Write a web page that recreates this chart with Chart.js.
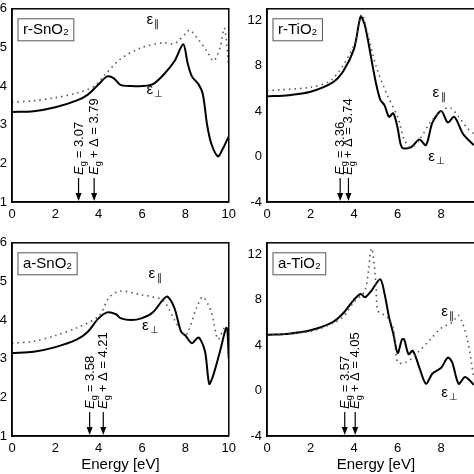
<!DOCTYPE html>
<html><head><meta charset="utf-8">
<script src="https://cdn.jsdelivr.net/npm/chart.js@4"></script>
<style>
body{margin:0;width:474px;height:474px;overflow:hidden;background:#fff;position:relative}
.p{position:absolute}
</style></head><body>
<div class="p" style="left:0;top:0;width:237px;height:222px"><canvas id="c1"></canvas></div>
<div class="p" style="left:235px;top:0;width:258px;height:222px"><canvas id="c2"></canvas></div>
<div class="p" style="left:0;top:234px;width:237px;height:240px"><canvas id="c3"></canvas></div>
<div class="p" style="left:235px;top:234px;width:258px;height:240px"><canvas id="c4"></canvas></div>
<script>
const FONT = 'Liberation Sans';

// r-SnO2
const rSnPerp = [[0,3.33],[1,3.35],[2,3.45],[3,3.63],[3.5,3.78],[4,4.05],[4.4,4.25],[4.7,4.2],[5,4.03],[5.5,4.0],[6,4.0],[6.5,4.05],[7,4.3],[7.5,4.65],[7.9,5.08],[8.1,4.6],[8.3,4.25],[8.6,4.05],[8.8,3.8],[9,3.0],[9.2,2.5],[9.5,2.18],[9.7,2.35],[10,2.7]];
const rSnPar = [[0,3.58],[1,3.62],[2,3.7],[3,3.82],[3.8,4.0],[4.3,4.3],[5,4.7],[6,5.0],[7,5.12],[7.5,5.1],[8,5.35],[8.2,5.45],[8.6,5.2],[9,4.9],[9.3,4.65],[9.6,5.0],[9.8,5.5],[10,4.5]];
// r-TiO2
const rTiPerp = [[0,5.3],[1,5.4],[2,5.7],[3,6.5],[3.5,7.5],[4,9.5],[4.3,12.3],[4.5,11.5],[4.8,8.5],[5,6.5],[5.2,5.0],[5.4,4.5],[5.6,3.5],[5.8,3.8],[6,2.5],[6.2,0.8],[6.6,0.8],[7,1.5],[7.3,1.0],[7.6,3.0],[8,4.0],[8.3,3.0],[8.6,3.5],[9,2.0],[9.5,1.0]];
const rTiPar = [[0,5.8],[2,6.1],[3,6.8],[4,9.8],[4.35,12.5],[4.6,11.0],[5,8.0],[5.5,5.5],[6,3.5],[6.3,1.5],[6.6,0.8],[7,1.5],[7.5,3.0],[8,4.0],[8.4,4.3],[8.8,3.5],[9.2,2.5],[9.5,2.0]];
// a-SnO2
const aSnPerp = [[0,3.15],[1,3.18],[2,3.3],[3,3.5],[3.5,3.7],[4,4.05],[4.4,4.2],[4.8,4.15],[5,4.05],[5.5,4.0],[6,4.05],[6.5,4.2],[7,4.55],[7.2,4.6],[7.5,4.3],[7.8,3.7],[8,3.6],[8.3,3.4],[8.6,3.55],[8.9,3.2],[9.1,2.35],[9.3,2.6],[9.6,3.2],[9.9,3.8],[10,3.0]];
const aSnPar = [[0,3.4],[1,3.45],[2,3.6],[3,3.8],[4,4.1],[4.5,4.6],[5,4.75],[6,4.65],[6.5,4.6],[7,4.5],[7.5,4.0],[8,3.6],[8.5,4.3],[8.8,4.6],[9.2,4.2],[9.5,3.5],[9.8,3.8],[10,3.8]];
// a-TiO2
const aTiPerp = [[0,4.9],[1,5.0],[2,5.3],[3,6.0],[3.5,6.8],[4,8.0],[4.3,8.5],[4.5,8.2],[4.8,8.8],[5.2,9.8],[5.4,8.5],[5.6,6.5],[5.8,5.0],[6,3.3],[6.2,4.5],[6.3,4.5],[6.5,3.2],[6.7,3.5],[7,2.0],[7.3,0.6],[7.6,1.5],[8,2.0],[8.3,2.9],[8.5,2.5],[8.8,0.6],[9.1,1.2],[9.5,0.5]];
const aTiPar = [[0,4.85],[2,5.2],[3,5.9],[3.5,6.5],[4,7.8],[4.5,8.8],[4.8,12.5],[5,9.5],[5.1,7.0],[5.5,6.5],[5.8,5.5],[6,2.5],[6.4,2.5],[7,3.5],[7.5,4.5],[8,5.5],[8.5,6.0],[8.8,6.6],[9.2,4.5],[9.5,1.0]];

const panels = [
  {id:'c1', name:'r-SnO₂', perp:rSnPerp, par:rSnPar, ymin:1, ymax:6, step:1, gaps:[3.07,3.79], yw:12, title:false,
   parLbl:[6.2,5.6], perpLbl:[6.2,3.8]},
  {id:'c2', name:'r-TiO₂', perp:rTiPerp, par:rTiPar, ymin:-4, ymax:13, step:4, gaps:[3.36,3.74], yw:32, title:false,
   parLbl:[7.6,5.2], perpLbl:[7.4,-0.4]},
  {id:'c3', name:'a-SnO₂', perp:aSnPerp, par:aSnPar, ymin:1, ymax:6, step:1, gaps:[3.58,4.21], yw:12, title:true,
   parLbl:[6.3,5.1], perpLbl:[6.0,3.75]},
  {id:'c4', name:'a-TiO₂', perp:aTiPerp, par:aTiPar, ymin:-4, ymax:13, step:4, gaps:[3.57,4.05], yw:32, title:true,
   parLbl:[8.0,6.6], perpLbl:[8.0,-0.6]}
];

function epsLabel(ctx, x, y, sub) {
  ctx.font = '15px ' + FONT;
  ctx.fillText('ε', x, y);
  ctx.font = '10px ' + FONT;
  ctx.fillText(sub, x + 8, y + 3);
}

const deco = {
  id: 'deco',
  afterDraw(chart) {
    const p = chart.options.plugins.deco.panel;
    const ctx = chart.ctx, xs = chart.scales.x, ys = chart.scales.y, a = chart.chartArea;
    ctx.save();
    ctx.fillStyle = '#000'; ctx.strokeStyle = '#000';
    ctx.lineWidth = 1.5;
    ctx.strokeRect(a.left, a.top, a.right - a.left, a.bottom - a.top);
    // name box
    ctx.font = '15px ' + FONT;
    ctx.textBaseline = 'middle';
    const w = ctx.measureText(p.name).width;
    ctx.fillStyle = '#fff';
    ctx.fillRect(a.left + 6, a.top + 10, w + 10, 22);
    ctx.lineWidth = 1; ctx.strokeStyle = '#555';
    ctx.strokeRect(a.left + 6, a.top + 10, w + 10, 22);
    ctx.fillStyle = '#000';
    ctx.fillText(p.name, a.left + 11, a.top + 21);
    // eps labels
    ctx.textBaseline = 'alphabetic';
    epsLabel(ctx, xs.getPixelForValue(p.parLbl[0]), ys.getPixelForValue(p.parLbl[1]), '∥');
    epsLabel(ctx, xs.getPixelForValue(p.perpLbl[0]), ys.getPixelForValue(p.perpLbl[1]), '⊥');
    // gap arrows and labels
    const labels = ['= ', '+ Δ = '];
    p.gaps.forEach((g, i) => {
      const px = xs.getPixelForValue(g);
      ctx.strokeStyle = '#000'; ctx.lineWidth = 1.2;
      ctx.beginPath(); ctx.moveTo(px, a.bottom - 24); ctx.lineTo(px, a.bottom - 4); ctx.stroke();
      ctx.beginPath(); ctx.moveTo(px - 3, a.bottom - 9); ctx.lineTo(px, a.bottom - 1); ctx.lineTo(px + 3, a.bottom - 9); ctx.closePath(); ctx.fill();
      ctx.save();
      ctx.translate(px + 4, a.bottom - 27);
      ctx.rotate(-Math.PI / 2);
      let x = 0;
      ctx.font = 'italic 13px ' + FONT; ctx.fillText('E', x, 0); x += ctx.measureText('E').width;
      ctx.font = '9px ' + FONT; ctx.fillText('g', x, 3); x += ctx.measureText('g').width + 3;
      ctx.font = '13px ' + FONT; ctx.fillText(labels[i] + g.toFixed(2), x, 0);
      ctx.restore();
    });
    ctx.restore();
  }
};

panels.forEach(p => {
  new Chart(document.getElementById(p.id), {
    type: 'line',
    data: {
      datasets: [
        {data: p.par.map(d => ({x: d[0], y: d[1]})), borderColor: '#555', borderWidth: 1.6, borderDash: [1.5, 4], pointRadius: 0, tension: 0.3},
        {data: p.perp.map(d => ({x: d[0], y: d[1]})), borderColor: '#000', borderWidth: 2, pointRadius: 0, tension: 0.3}
      ]
    },
    options: {
      responsive: true, maintainAspectRatio: false, animation: false,
      layout: {padding: {top: 5, right: p.id === 'c1' || p.id === 'c3' ? 5 : 0}},
      plugins: {legend: {display: false}, tooltip: {enabled: false}, deco: {panel: p}},
      scales: {
        x: {type: 'linear', min: 0, max: 10,
          grid: {display: false, drawTicks: true, tickLength: 4, tickColor: '#000'},
          border: {color: '#000', width: 1.5},
          ticks: {stepSize: 2, color: '#000', font: {family: FONT, size: 13}, padding: 1, maxRotation: 0},
          title: {display: p.title, text: 'Energy [eV]', color: '#000', font: {family: FONT, size: 15}, padding: 0},
          afterFit: s => { s.height = p.title ? 38 : 20; }},
        y: {min: p.ymin, max: p.ymax,
          grid: {display: false, tickLength: 4, tickColor: '#000'},
          border: {color: '#000', width: 1.5},
          ticks: {color: '#000', font: {family: FONT, size: 13}, padding: 1},
          afterBuildTicks: s => {
            const t = [];
            for (let v = p.ymin; v <= p.ymax; v += p.step) t.push({value: v});
            s.ticks = t;
          },
          afterFit: s => { s.width = p.yw; }}
      }
    },
    plugins: [deco]
  });
});
</script>
</body></html>
